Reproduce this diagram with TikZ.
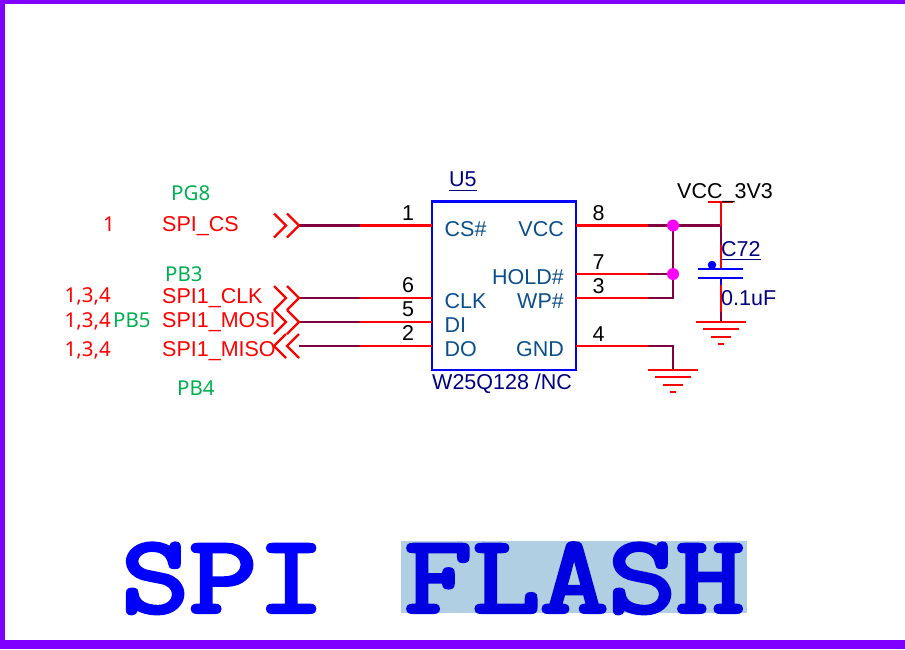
\documentclass[tikz,border=0pt]{standalone}
\usepackage{fontspec}
\setmainfont{Liberation Sans}
\newfontfamily\greenfont{Noto Sans}
\newfontfamily\bannerfont[FakeBold=3.8,FakeStretch=1.2]{Latin Modern Mono}
\usepackage{tikz}
\usetikzlibrary{positioning}
\definecolor{framepurple}{HTML}{8000FF}
\definecolor{wirered}{HTML}{FF0000}
\definecolor{wiredark}{HTML}{800040}
\definecolor{pinblue}{HTML}{0B4F8A}
\definecolor{labelnavy}{HTML}{000080}
\definecolor{labelgreen}{HTML}{00B050}
\definecolor{bannerbg}{HTML}{B0CFE3}
\definecolor{bannerblue}{HTML}{0000E0}
\definecolor{dotmagenta}{HTML}{FF00FF}
\definecolor{plateblue}{HTML}{0000FF}
\tikzset{
  lbl/.style={inner sep=0pt, anchor=base west, font=\fontsize{21.5}{24}\selectfont},
  netlbl/.style={lbl, text=wirered},
  sheetlbl/.style={inner sep=0pt, anchor=base west, text=wirered, font=\greenfont\fontsize{20.5}{23}\selectfont},
  portlbl/.style={sheetlbl, text=labelgreen},
  pinnum/.style={lbl, anchor=base, text=black},
  pinname/.style={lbl, text=pinblue},
  pinnamer/.style={pinname, anchor=base east},
  partlbl/.style={lbl, text=labelnavy},
  redwire/.style={draw=wirered, line width=2.4pt},
  darkwire/.style={draw=wiredark, line width=2.4pt},
  bluewire/.style={draw=plateblue, line width=2.4pt},
  junction/.style={circle, fill=dotmagenta, inner sep=0pt, minimum size=12pt},
  banner/.style={inner sep=0pt, anchor=base west, font=\bannerfont\fontsize{110}{110}\selectfont},
  pics/gndsym/.style={code={
    \draw[redwire] (-25,0) -- (25,0);
    \draw[redwire] (-18,7) -- (18,7);
    \draw[redwire] (-10,15) -- (10,15);
    \draw[redwire] (-3,22) -- (3,22);
  }},
  pics/portin/.style={code={
    \draw[redwire] (-12,-12) -- (0,0) -- (-12,12);
    \draw[redwire] (-25,-12) -- (-13,0) -- (-25,12);
  }},
  pics/portout/.style={code={
    \draw[redwire] (0,-12) -- (-12,0) -- (0,12);
    \draw[redwire] (-13,-12) -- (-25,0) -- (-13,12);
  }},
}

\begin{document}
\begin{tikzpicture}[x=1pt, y=-1pt]
  \useasboundingbox (0,0) rectangle (905,649);
  % frame
  \fill[framepurple] (0,0) rectangle (905,4);
  \fill[framepurple] (0,0) rectangle (5,649);
  \fill[framepurple] (0,640) rectangle (905,649);

  % chip
  \node[draw=plateblue, line width=2.4pt, inner sep=0pt, minimum width=144pt, minimum height=168.5pt] (chip) at (504,285.75) {};
  \node[lbl, text=labelnavy] (u5) at (449,186.7) {U5};
  \draw[draw=labelnavy, line width=1.5pt] ([yshift=-4pt]u5.base west) -- ([yshift=-4pt]u5.base east);
  \node[partlbl] (partno) at (432,389.3) {W25Q128 /NC};

  \node[pinname] (cs) at (444.5,236) {CS\#};
  \node[pinname] (clk) at (444.5,308) {CLK};
  \node[pinname] (di) at (444.5,332) {DI};
  \node[pinname] (do) at (444.5,356) {DO};
  \node[pinnamer] (vcc) at (564,236) {VCC};
  \node[pinnamer] (hold) at (564,284) {HOLD\#};
  \node[pinnamer] (wp) at (564,308) {WP\#};
  \node[pinnamer] (gnd) at (564,356) {GND};

  \node[pinnum] (n1) at (408,220.7) {1};
  \node[pinnum] (n6) at (408,292.7) {6};
  \node[pinnum] (n5) at (408,316.7) {5};
  \node[pinnum] (n2) at (408,340.7) {2};
  \node[pinnum] (n8) at (598.5,220.7) {8};
  \node[pinnum] (n7) at (598.5,269.3) {7};
  \node[pinnum] (n3) at (598.5,293.3) {3};
  \node[pinnum] (n4) at (598.5,341) {4};

  % left side nets
  \coordinate (pcs) at (432,225.5);
  \coordinate (pclk) at (432,298);
  \coordinate (pdi) at (432,322);
  \coordinate (pdo) at (432,346);
  \coordinate (mcs) at (360,225.5);
  \coordinate (mclk) at (360,298);
  \coordinate (mdi) at (360,322);
  \coordinate (mdo) at (360,346);
  \coordinate (tcs) at (299,225.5);
  \coordinate (tclk) at (299,298);
  \coordinate (tdi) at (299,322);
  \coordinate (tdo) at (299,346);
  \draw[redwire] (pcs) -- (mcs);
  \draw[redwire] (pclk) -- (mclk);
  \draw[redwire] (pdi) -- (mdi);
  \draw[redwire] (pdo) -- (mdo);
  \draw[darkwire] (mcs) -- (tcs);
  \draw[darkwire] (mclk) -- (tclk);
  \draw[darkwire] (mdi) -- (tdi);
  \draw[darkwire] (mdo) -- (tdo);
  \pic at (tcs) {portin};
  \pic at (tclk) {portin};
  \pic at (tdi) {portin};
  \pic at (tdo) {portout};

  \node[netlbl] (spics) at (162,231) {SPI\_CS};
  \node[netlbl] (spiclk) at (162,303.3) {SPI1\_CLK};
  \node[netlbl] (spimosi) at (162,327) {SPI1\_MOSI};
  \node[netlbl] (spimiso) at (162,356) {SPI1\_MISO};
  \node[sheetlbl] (sh1) at (103,231) {1};
  \node[sheetlbl] (sh2) at (64.5,302.7) {1,3,4};
  \node[sheetlbl] (sh3) at (64.5,327) {1,3,4};
  \node[sheetlbl] (sh4) at (64.5,356) {1,3,4};
  \node[portlbl] (pg8) at (171,200.7) {PG8};
  \node[portlbl] (pb3) at (165,281) {PB3};
  \node[portlbl] (pb5) at (113,327) {PB5};
  \node[portlbl] (pb4) at (177,395) {PB4};

  % right side nets
  \coordinate (pvcc) at (576,225.5);
  \coordinate (phold) at (576,274);
  \coordinate (pwp) at (576,298);
  \coordinate (pgnd) at (576,346);
  \coordinate (mvcc) at (648,225.5);
  \coordinate (mhold) at (648,274);
  \coordinate (mwp) at (648,298);
  \coordinate (mgnd) at (648,346);
  \coordinate (cwp) at (673,298);
  \coordinate (cgnd) at (673,346);
  \coordinate (g1) at (673,370);
  \coordinate (rail) at (721,225.5);
  \draw[redwire] (pvcc) -- (mvcc);
  \draw[redwire] (phold) -- (mhold);
  \draw[redwire] (pwp) -- (mwp);
  \draw[redwire] (pgnd) -- (mgnd);
  \coordinate (a1) at (673,225.5);
  \coordinate (a2) at (673,274);
  \draw[darkwire] (mvcc) -- (a1) -- (rail);
  \draw[darkwire] (mhold) -- (a2);
  \draw[darkwire] (mwp) -- (cwp) -- (a2) -- (a1);
  \draw[darkwire] (mgnd) -- (cgnd) -- (g1);
  \node[junction] (j1) at (a1) {};
  \node[junction] (j2) at (a2) {};
  \pic at (g1) {gndsym};

  % supply and capacitor
  \coordinate (vtop) at (721,202);
  \coordinate (vl) at (708,202);
  \coordinate (vr) at (733,202);
  \coordinate (c1) at (721,245);
  \coordinate (c2) at (721,269);
  \coordinate (c3) at (721,278);
  \coordinate (c4) at (721,285);
  \coordinate (c5) at (721,312);
  \coordinate (g2) at (721,322);
  \coordinate (pl) at (698,269);
  \coordinate (pr) at (743,269);
  \coordinate (ql) at (698,278);
  \coordinate (qr) at (743,278);
  \draw[redwire] (vl) -- (vr);
  \draw[redwire] (vtop) -- (rail);
  \draw[darkwire] (rail) -- (c1);
  \draw[redwire] (c1) -- (c2);
  \draw[bluewire] (pl) -- (pr);
  \draw[bluewire] (ql) -- (qr);
  \draw[bluewire] (c3) -- (c4);
  \draw[redwire] (c4) -- (c5);
  \draw[darkwire] (c5) -- (g2);
  \pic at (g2) {gndsym};
  \node[circle, fill=plateblue, inner sep=0pt, minimum size=8.5pt] (cdot) at (712,265) {};
  \node[lbl, text=black] (vcclbl) at (677,198.3) {VCC\_3V3};
  \node[partlbl] (c72) at (721,256.7) {C72};
  \draw[draw=labelnavy, line width=1.5pt] ([yshift=-3pt]c72.base west) -- ([yshift=-3pt]c72.base east);
  \node[partlbl] (cval) at (721,305) {0.1uF};

  % title
  \node[banner, text=plateblue] (spi) at (121,612) {SPI};
  \node[fill=bannerbg, inner sep=0pt, minimum width=346pt, minimum height=72pt] (flashbg) at (574,577) {};
  \node[banner, text=bannerblue] (flash) at (404,612) {FLASH};
\end{tikzpicture}
\end{document}
